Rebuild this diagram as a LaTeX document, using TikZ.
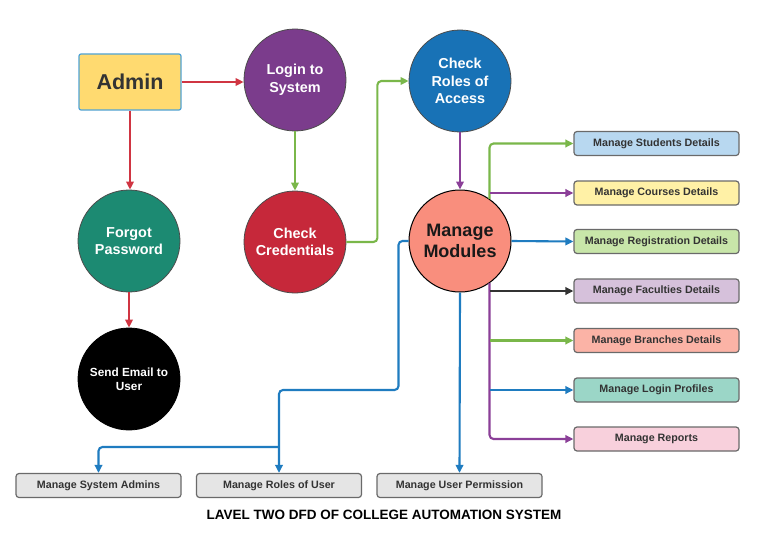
\documentclass[tikz,border=0pt]{standalone}
\usepackage{fontspec}
\setmainfont{Liberation Sans}
\usetikzlibrary{arrows.meta,calc}
\definecolor{adminfill}{HTML}{FFDA70}
\definecolor{adminline}{HTML}{4FA3D8}
\definecolor{loginc}{HTML}{7B3C8C}
\definecolor{rolesc}{HTML}{1872B6}
\definecolor{forgotc}{HTML}{1C8A72}
\definecolor{credc}{HTML}{C6283A}
\definecolor{mmc}{HTML}{F98E7D}
\definecolor{lred}{HTML}{D03542}
\definecolor{lgreen}{HTML}{7AB74A}
\definecolor{lpurple}{HTML}{8B3F98}
\definecolor{lblue}{HTML}{1F7CC0}
\definecolor{lgray}{HTML}{333333}
\definecolor{boxline}{HTML}{6A6A6A}
\definecolor{boxtext}{HTML}{333333}
\definecolor{fa}{HTML}{B8D8F0}
\definecolor{fb}{HTML}{FFF1A6}
\definecolor{fc}{HTML}{C8E6A9}
\definecolor{fd}{HTML}{D6C1DB}
\definecolor{fe}{HTML}{FBB3A6}
\definecolor{ff}{HTML}{9BD6C7}
\definecolor{fg}{HTML}{F8D0DC}
\definecolor{fh}{HTML}{E5E5E5}
\begin{document}
\begin{tikzpicture}[x=1pt,y=-1pt,
  proc/.style={circle, minimum size=102pt, inner sep=0pt, draw=black!70, line width=0.8pt, text=white, align=center, font=\fontsize{14.4}{17.5}\selectfont\bfseries},
  rbox/.style={rectangle, rounded corners=3pt, minimum width=165pt, minimum height=24pt, inner sep=0pt, draw=boxline, line width=1.2pt, text=boxtext, font=\fontsize{10.7}{12}\selectfont\bfseries},
  flow/.style={line width=2.1pt, rounded corners=4pt, -{Triangle[length=8pt,width=7.5pt]}}]
\useasboundingbox[fill=white] (0,0) rectangle (768,543);

\node[rectangle, rounded corners=2pt, minimum width=102pt, minimum height=56pt, fill=adminfill, draw=adminline, line width=1.2pt, text=lgray, font=\fontsize{21.5}{24}\selectfont\bfseries] (admin) at (130,82) {Admin};
\node[proc, fill=loginc] (login) at (295,80) {Login to\\System};
\node[proc, fill=rolesc] (roles) at (460,81) {Check\\Roles of\\Access};
\node[proc, fill=forgotc] (forgot) at (129,241) {Forgot\\Password};
\node[proc, fill=credc] (cred) at (295,242) {Check\\Credentials};
\node[proc, fill=black, draw=black, font=\fontsize{11.8}{14}\selectfont\bfseries] (email) at (129,379) {Send Email to\\User};
\node[proc, fill=mmc, draw=black, line width=1pt, text=black!90, font=\fontsize{18}{21}\selectfont\bfseries] (mm) at (460,241) {Manage\\Modules};

\node[rbox, fill=fa] (s1) at (656.5,143.5) {Manage Students Details};
\node[rbox, fill=fb] (s2) at (656.5,193) {Manage Courses Details};
\node[rbox, fill=fc] (s3) at (656.5,241.5) {Manage Registration Details};
\node[rbox, fill=fd] (s4) at (656.5,291) {Manage Faculties Details};
\node[rbox, fill=fe] (s5) at (656.5,340.5) {Manage Branches Details};
\node[rbox, fill=ff] (s6) at (656.5,390) {Manage Login Profiles};
\node[rbox, fill=fg] (s7) at (656.5,439) {Manage Reports};

\node[rbox, fill=fh] (b1) at (98.5,485.5) {Manage System Admins};
\node[rbox, fill=fh] (b2) at (279,485.5) {Manage Roles of User};
\node[rbox, fill=fh] (b3) at (459.5,485.5) {Manage User Permission};

\node[font=\fontsize{13.5}{15}\selectfont\bfseries, text=black] (title) at (384,515) {LAVEL TWO DFD OF COLLEGE AUTOMATION SYSTEM};

% red flows
\draw[flow, lred] (admin.east) -- (login.west |- admin.east);
\draw[flow, lred] (admin.south) -- (admin.south |- forgot.north);
\draw[flow, lred] (forgot.south) -- (email.north);
% green flows
\draw[flow, lgreen] (login.south) -- (cred.north);
\draw[flow, lgreen] (cred.east) -- ++(31,0) |- (roles.west);
% purple
\draw[flow, lpurple] (roles.south) -- (mm.north);
% right side
\draw[flow, lgreen] (mm.55) |- (s1.west);
\draw[flow, lpurple] (s2.west -| mm.55) -- (s2.west);
\draw[flow, lblue] (mm.east) -- (s3.west);
\draw[flow, lpurple] (mm.-55) |- (s7.west);
\draw[flow, lgray] (s4.west -| mm.-55) -- (s4.west);
\draw[flow, lgreen] (s5.west -| mm.-55) -- (s5.west);
\draw[flow, lblue] (s6.west -| mm.-55) -- (s6.west);
% bottom
\draw[flow, lblue] (mm.south) -- (b3.north);
\coordinate (j1) at (279,390);
\coordinate (j2) at (279,447);
\draw[flow, lblue] (mm.west) -- ++(-10,0) |- (j1) -- (b2.north);
\draw[flow, lblue] (j2) -| (b1.north);
\end{tikzpicture}
\end{document}
